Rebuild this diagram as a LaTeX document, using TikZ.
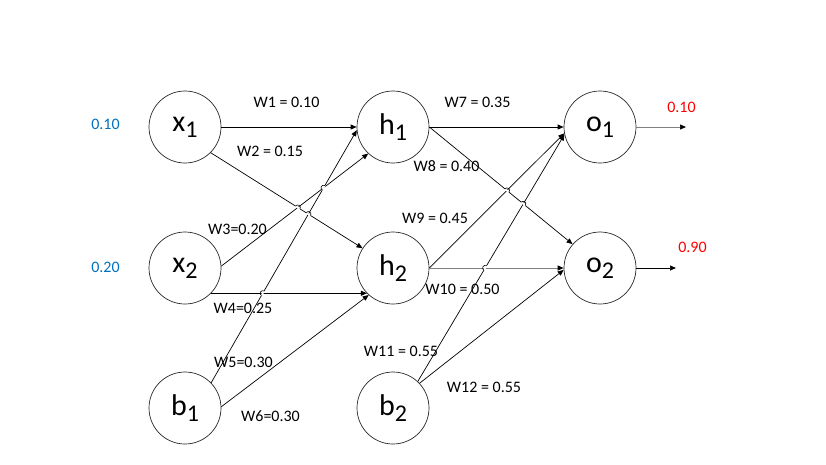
\documentclass[tikz,border=0pt]{standalone}
\usepackage{fontspec}
\setmainfont{Carlito}
\usetikzlibrary{arrows.meta,intersections}
\definecolor{lblblue}{HTML}{0070C0}
\definecolor{lblred}{HTML}{FF0000}
\newcommand\nlab[2]{\fontsize{30}{30}\selectfont #1\raisebox{-6pt}{\fontsize{24}{24}\selectfont #2}}
\newcommand\hopat[2]{%
  \draw[white,line width=1.6pt] (#1) ++(#2+180:2.6) -- ++(#2:5.2);
  \draw[hop] (#1) ++(#2+180:2.6) arc[start angle=#2+180,end angle=#2+360,radius=2.6];}
\begin{document}
\begin{tikzpicture}[x=1pt,y=-1pt,
  neuron/.style={circle,draw=black!85,line width=0.7pt,minimum size=72pt,inner sep=0pt},
  conn/.style={draw,line width=0.7pt,-{Triangle[length=6pt,width=5pt,color=black]}},
  greyconn/.style={conn,draw=black!50},
  hop/.style={draw,line width=0.6pt},
  wlabel/.style={font=\fontsize{16}{16}\selectfont,inner sep=0pt},
  inlabel/.style={wlabel,text=lblblue},
  outlabel/.style={wlabel,text=lblred}]
\useasboundingbox (0,0) rectangle (826,464);
% neurons
\node[neuron] (x1) at (185,127) {\nlab{x}{1}};
\node[neuron] (x2) at (185,268) {\nlab{x}{2}};
\node[neuron] (b1) at (185,408) {\nlab{b}{1}};
\node[neuron] (h1) at (393,127) {\nlab{h}{1}};
\node[neuron] (h2) at (393,268) {\nlab{h}{2}};
\node[neuron] (b2) at (393,408) {\nlab{b}{2}};
\node[neuron] (o1) at (600,127) {\nlab{o}{1}};
\node[neuron] (o2) at (600,268) {\nlab{o}{2}};
\coordinate (out1) at (686,127);
\coordinate (out2) at (676,268);
% connectors
\draw[conn,name path=x1h1] (x1.east) -- (h1.west);
\draw[conn,name path=x1h2] (x1.-45) -- (h2.147);
\draw[conn,name path=x2h1] (x2.3) -- (h1.227);
\draw[conn,name path=x2h2] (x2.-44) -- (h2.224);
\draw[conn,name path=b1h1] (b1.44) -- (h1.185);
\draw[conn,name path=b1h2] (b1.2) -- (h2.228);
\draw[conn,name path=h1o1] (h1.east) -- (o1.west);
\draw[conn,name path=h1o2] (h1.east) -- (o2.139);
\draw[conn,name path=h2o1] (h2.east) -- (o1.190);
\draw[greyconn,name path=h2o2,line width=0.9pt] (h2.east) -- (o2.west);
\draw[conn,name path=b2o1] (b2.47) -- (o1.192);
\draw[conn,name path=b2o2] (b2.43) -- (o2.183);
\draw[greyconn] (o1.east) -- (out1);
\draw[conn] (o2.east) -- (out2);
% line hops
\path[name intersections={of=x1h2 and x2h1,by=i1}];
\path[name intersections={of=x1h2 and b1h1,by=i2}];
\path[name intersections={of=x2h1 and b1h1,by=i3}];
\path[name intersections={of=x2h2 and b1h1,by=i4}];
\path[name intersections={of=h1o2 and h2o1,by=i5}];
\path[name intersections={of=h1o2 and b2o1,by=i6}];
\path[name intersections={of=h2o2 and b2o1,by=i7}];
\hopat{i1}{32}
\hopat{i2}{32}
\hopat{i3}{-59.9}
\hopat{i4}{-59.9}
\hopat{i5}{39.5}
\hopat{i6}{39.5}
\hopat{i7}{-59.6}
% weight labels
\node[wlabel] (w1) at (286.5,102.5) {W1 = 0.10};
\node[wlabel] (w2) at (270,151) {W2 = 0.15};
\node[wlabel] (w3) at (237.5,229) {W3=0.20};
\node[wlabel] (w4) at (243,308.5) {W4=0.25};
\node[wlabel] (w5) at (243.5,362) {W5=0.30};
\node[wlabel] (w6) at (270.5,416) {W6=0.30};
\node[wlabel] (w7) at (477.5,102.5) {W7 = 0.35};
\node[wlabel] (w8) at (446.5,166) {W8 = 0.40};
\node[wlabel] (w9) at (435,218.5) {W9 = 0.45};
\node[wlabel] (w10) at (462.5,289) {W10 = 0.50};
\node[wlabel] (w11) at (401,351) {W11 = 0.55};
\node[wlabel] (w12) at (484,387) {W12 = 0.55};
% inputs and outputs
\node[inlabel] (in1) at (105.5,124.5) {0.10};
\node[inlabel] (in2) at (105.5,267) {0.20};
\node[outlabel] (ov1) at (681.5,107.5) {0.10};
\node[outlabel] (ov2) at (692.5,247) {0.90};
\end{tikzpicture}
\end{document}
